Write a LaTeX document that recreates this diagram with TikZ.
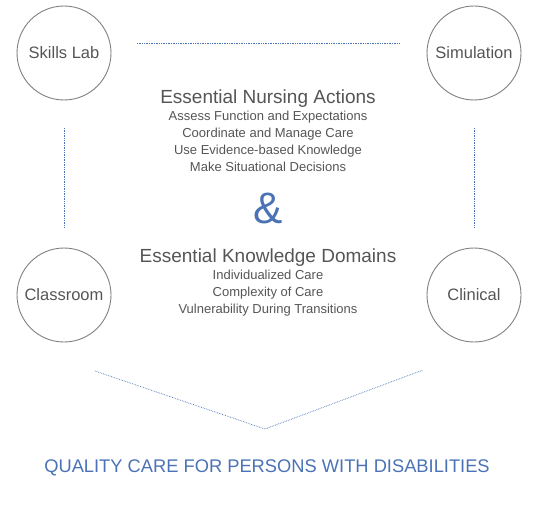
\documentclass[tikz,border=0pt]{standalone}
\usepackage{fontspec}
\setmainfont{Liberation Sans}
\usetikzlibrary{positioning}
\definecolor{textgray}{HTML}{555555}
\definecolor{ringgray}{HTML}{808080}
\definecolor{careblue}{HTML}{4A72B4}
\tikzset{
  setting/.style={circle,draw=ringgray,line width=0.9pt,minimum size=94pt,inner sep=0pt,
    text=textgray,font=\fontsize{16.5}{18}\selectfont},
  link/.style={careblue,densely dotted,line width=0.7pt},
  heading/.style={text=textgray,font=\fontsize{19}{21}\selectfont},
  items/.style={text=textgray,align=center,font=\fontsize{13}{17}\selectfont}
}
\begin{document}
\begin{tikzpicture}[x=1pt,y=-1pt]
\useasboundingbox (0,0) rectangle (537,505);

% the four learning settings
\node[setting] (skills) at (64,53) {Skills Lab};
\node[setting] (simul) at (474,53) {Simulation};
\node[setting] (class) at (64,295) {Classroom};
\node[setting] (clinic) at (474,295) {Clinical};

% centre texts
\node[heading] (actions) at (268,99) {Essential Nursing Actions};
\node[items,below=-4pt of actions] (actlist) {Assess Function and Expectations\\
  Coordinate and Manage Care\\ Use Evidence-based Knowledge\\ Make Situational Decisions};
\node[text=careblue,font=\fontsize{44}{44}\selectfont] (amp) at (268,208) {\&};
\node[heading] (domains) at (268,258) {Essential Knowledge Domains};
\node[items,below=-4pt of domains] (domlist) {Individualized Care\\
  Complexity of Care\\ Vulnerability During Transitions};
\node[text=careblue,font=\fontsize{18.3}{20}\selectfont] (quality) at (267,468)
  {QUALITY CARE FOR PERSONS WITH DISABILITIES};

% dotted links
\coordinate (topL) at (137,43);
\coordinate (topR) at (400,43);
\coordinate (leftT) at (64,128);
\coordinate (leftB) at (64,228);
\coordinate (rightT) at (474,128);
\coordinate (rightB) at (474,228);
\coordinate (vL) at (95,371);
\coordinate (vM) at (265,429);
\coordinate (vR) at (423,370);
\draw[link] (topL) -- (topR);
\draw[link] (leftT) -- (leftB);
\draw[link] (rightT) -- (rightB);
\draw[link] (vL) -- (vM) -- (vR);
\end{tikzpicture}
\end{document}
